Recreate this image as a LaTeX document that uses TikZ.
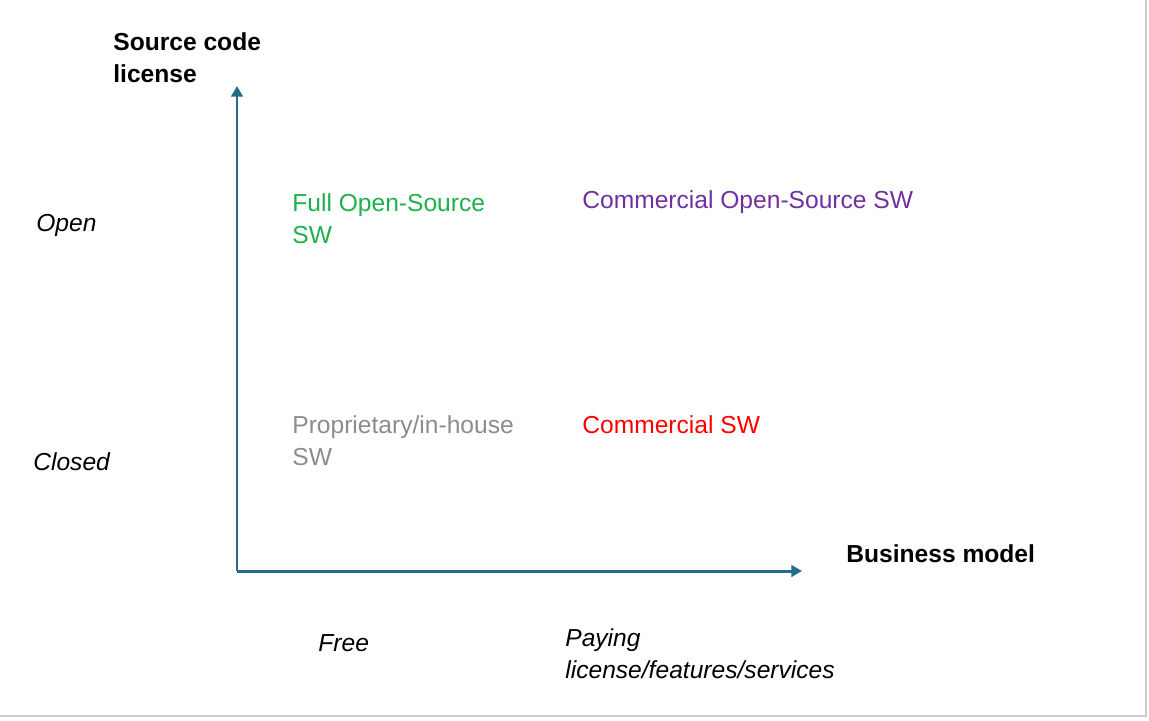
\documentclass[tikz,border=0pt]{standalone}
\usepackage{fontspec}
\setmainfont{Liberation Sans}
\usetikzlibrary{arrows.meta}
\begin{document}
\begin{tikzpicture}[x=0.02cm,y=-0.02cm,
  lbl/.style={anchor=west,inner sep=0pt,align=left,font=\fontsize{14pt}{18pt}\selectfont},
  ax/.style={draw=axisblue,line width=1.7pt,-{Triangle[length=6pt,width=6.5pt]}}]
\definecolor{axisblue}{HTML}{236C8E}
\definecolor{grn}{HTML}{1DB14B}
\definecolor{prp}{HTML}{7030A0}
\definecolor{gry}{HTML}{8C8C8C}
\useasboundingbox (0,0) rectangle (1149,720);
\draw[gray!40,line width=1pt] (1146,0) -- (1146,716) -- (0,716);
\coordinate (o) at (237,571);
\coordinate (ytop) at (237,86);
\coordinate (xend) at (802,571);
\draw[ax] (o) -- (ytop);
\draw[ax] (o) -- (xend);
\node[lbl,font=\fontsize{14pt}{18pt}\selectfont\bfseries] (yl) at (113,58) {Source code\\license};
\node[lbl,font=\fontsize{14pt}{18pt}\selectfont\bfseries] (xl) at (846,554) {Business model};
\node[lbl,font=\fontsize{14pt}{18pt}\selectfont\itshape] (op) at (36,225) {Open};
\node[lbl,font=\fontsize{14pt}{18pt}\selectfont\itshape] (cl) at (33,462) {Closed};
\node[lbl,font=\fontsize{14pt}{18pt}\selectfont\itshape] (fr) at (318,643) {Free};
\node[lbl,font=\fontsize{14pt}{18pt}\selectfont\itshape] (pa) at (565,654) {Paying\\license/features/services};
\node[lbl,text=grn] (fos) at (292,219) {Full Open-Source\\SW};
\node[lbl,text=prp] (cos) at (582,202) {Commercial Open-Source SW};
\node[lbl,text=gry] (pr) at (292,441) {Proprietary/in-house\\SW};
\node[lbl,text=red] (cs) at (582,425) {Commercial SW};
\end{tikzpicture}
\end{document}
